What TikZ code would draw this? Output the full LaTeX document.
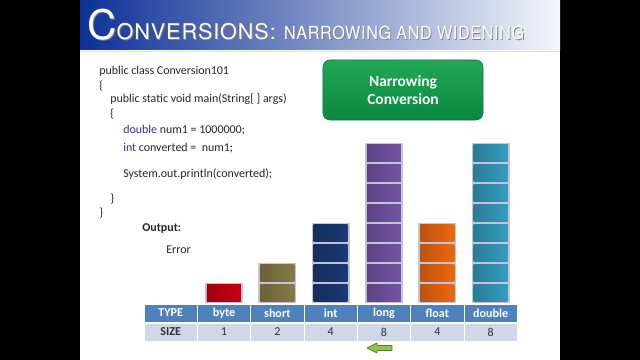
\documentclass[tikz,border=0pt]{standalone}
\usepackage{fontspec}
\setmainfont{Carlito}
\newfontfamily\titlefont[LetterSpace=4]{TeX Gyre Heros}
\usetikzlibrary{positioning}
\definecolor{titleblue}{RGB}{12,48,150}
\definecolor{titlemid}{RGB}{96,128,196}
\definecolor{titleend}{RGB}{244,246,250}
\definecolor{codeblue}{RGB}{48,48,160}
\definecolor{boxtop}{RGB}{34,168,86}
\definecolor{boxbot}{RGB}{10,136,62}
\definecolor{boxedge}{RGB}{14,110,90}
\definecolor{framegray}{RGB}{196,196,214}
\definecolor{bytecol}{RGB}{200,0,16}
\definecolor{shortcol}{RGB}{134,122,70}
\definecolor{intcol}{RGB}{26,58,116}
\definecolor{longcol}{RGB}{116,84,164}
\definecolor{floatcol}{RGB}{236,104,16}
\definecolor{doublecol}{RGB}{52,156,190}
\definecolor{typefill}{RGB}{79,129,189}
\definecolor{sizefill}{RGB}{208,216,232}
\definecolor{arrowgreen}{RGB}{150,196,70}
\definecolor{arrowedge}{RGB}{80,130,40}
\tikzset{
  code/.style={anchor=west, inner sep=0pt, text=black!85, font=\fontsize{8.5}{9}\selectfont},
  tcell/.style={draw=white, line width=0.6pt, minimum width=1.333cm, minimum height=0.45cm, inner sep=0pt, font=\fontsize{8.6}{9}\selectfont},
  typecell/.style={tcell, fill=typefill, text=white, font=\fontsize{8.6}{9}\selectfont\bfseries},
  sizecell/.style={tcell, fill=sizefill, text=black!80}
}
\newcommand{\kw}[1]{\textcolor{codeblue}{#1}}
\newcommand{\titletext}{\titlefont{\fontsize{29}{29}\selectfont C}{\fontsize{15.4}{15}\selectfont ONVERSIONS:}\hspace{6pt}\scalebox{0.9}[1]{\fontsize{12.8}{13}\selectfont NARROWING AND WIDENING}}

\begin{document}
\begin{tikzpicture}[x=0.025cm, y=-0.025cm]
	\fill[black] (0,0) rectangle (640,360);
	\fill[white] (80,0) rectangle (560,360);
	\shade[left color=titleblue, middle color=titlemid, right color=titleend] (80,0) rectangle (560,50);
	\draw[black!12] (80,51) -- (560,51);
	\node (titleshadow) at (87.8,25.8) [anchor=west, inner sep=0pt, text=black!50] {\titletext};
	\node (title) at (87,25) [anchor=west, inner sep=0pt, text=white] {\titletext};

	% code
	\node (c1) at (99,71) [code] {public class Conversion101};
	\node (c2) at (99,86) [code] {\{};
	\node (c3) at (110,99) [code] {public static void main(String[ ] args)};
	\node (c4) at (110,114) [code] {\{};
	\node (c5) at (123,130) [code] {\kw{double} num1 = 1000000;};
	\node (c6) at (123,148) [code] {\kw{int} converted = \ num1;};
	\node (c7) at (123,174) [code] {System.out.println(converted);};
	\node (c8) at (110,199) [code] {\}};
	\node (c9) at (99,213) [code] {\}};
	\node (outlabel) at (142,229) [code, font=\fontsize{8.5}{9}\selectfont\bfseries] {Output:};
	\node (outtext) at (166,250) [code] {Error};

	\node (narrow) at (403,90) [rounded corners=5pt, top color=boxtop, bottom color=boxbot, draw=boxedge, minimum width=4cm, minimum height=1.5cm, align=center, text=white, font=\fontsize{11}{12.8}\selectfont\bfseries] {Narrowing\\Conversion};

	% bars
	\foreach \i/\n/\c in {1/1/bytecol, 2/2/shortcol, 3/4/intcol, 4/8/longcol, 5/4/floatcol, 6/8/doublecol} {
		\pgfmathsetmacro{\cx}{144+53.33*(\i+0.5)}
		\fill[framegray] (\cx-19,303-20*\n) rectangle (\cx+19,303);
		\foreach \k in {1,...,\n}
		\shade[left color=\c!80!black, right color=\c] (\cx-17,303-20*\k+1.5) rectangle (\cx+17,323-20*\k-1.5);
	}

	% table
	\foreach \t/\s [count=\i from 0] in {TYPE/\textbf{SIZE}, byte/1, short/2, int/4, long/8, float/4, double/8} {
		\node (type\i) at (144+53.33*\i+26.67,313) [typecell] {\t};
		\node (size\i) at (144+53.33*\i+26.67,332) [sizecell] {\s};
	}

	\draw[fill=arrowgreen, draw=arrowedge, line width=0.5pt, line join=round] (392,345.5) -- (377,345.5) -- (377,343) -- (367,348) -- (377,353) -- (377,350.5) -- (392,350.5) -- cycle;
\end{tikzpicture}
\end{document}
